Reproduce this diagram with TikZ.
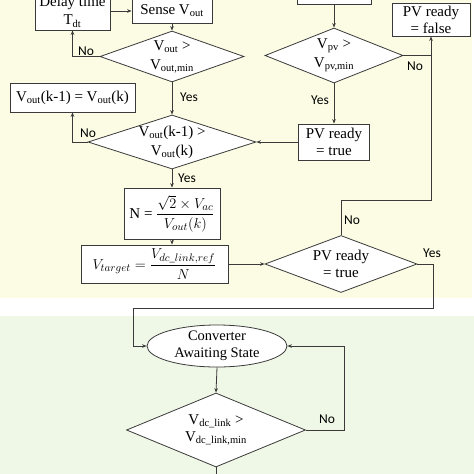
\documentclass[tikz,border=0pt]{standalone}
\usepackage{amsmath}
\usepackage{fontspec}
\setmainfont{Liberation Serif}
\newfontfamily\lblfont{Carlito}
\usetikzlibrary{shapes.geometric,arrows.meta}
\definecolor{lc}{HTML}{3A3A3A}
\definecolor{ybg}{HTML}{FCFCE4}
\definecolor{gbg}{HTML}{EFF8E6}
\begin{document}
\begin{tikzpicture}[x=1pt,y=-1pt,
  conn/.style={draw=lc, line width=0.8pt},
  arr/.style={conn, -{Stealth[length=4.5pt,width=3.6pt]}},
  box/.style={draw=lc, line width=0.8pt, fill=white, rectangle, inner sep=0pt, align=center, font=\fontsize{15}{17}\selectfont},
  dia/.style={draw=lc, line width=0.8pt, fill=white, diamond, inner xsep=0pt, inner ysep=-10pt, align=center, font=\fontsize{15}{19}\selectfont},
  ell/.style={draw=lc, line width=0.8pt, fill=white, ellipse, inner xsep=0pt, inner ysep=-8pt, align=center, font=\fontsize{14.5}{17}\selectfont},
  lbl/.style={font=\lblfont\fontsize{13.5}{15}\selectfont, inner sep=0pt}]
\useasboundingbox (0,0) rectangle (474,474);
\clip (0,0) rectangle (474,474);
\fill[ybg] (0,0) rectangle (472,298);
\fill[gbg] (0,316) rectangle (474,474);

% nodes
\node[box, minimum width=75, minimum height=36, font=\fontsize{15}{18}\selectfont] (delay) at (72.5,12) {Delay time\\T\textsubscript{dt}};
\node[box, minimum width=80, minimum height=24] (sense) at (172,11) {Sense V\textsubscript{out}};
\node[box, minimum width=74, minimum height=30] (top) at (334,-11) {};
\node[box, minimum width=78, minimum height=33] (pvf) at (431,19.5) {PV ready\\= false};
\node[dia, shape aspect=2.8, minimum width=144, minimum height=51] (d1) at (172,56.5) {V\textsubscript{out} >\\V\textsubscript{out,min}};
\node[box, minimum width=125, minimum height=29] (upd) at (72.5,97.5) {V\textsubscript{out}(k-1) = V\textsubscript{out}(k)};
\node[dia, shape aspect=3.1, minimum width=168, minimum height=54] (d2) at (172,142) {V\textsubscript{out}(k-1) >\\V\textsubscript{out}(k)};
\node[dia, shape aspect=2.5, minimum width=138, minimum height=55] (d3) at (334,55.5) {V\textsubscript{pv} >\\V\textsubscript{pv,min}};
\node[box, minimum width=71, minimum height=36] (pvt) at (334,142) {PV ready\\= true};
\node[box, minimum width=96, minimum height=51] (nbox) at (172,213.5) {N = $\dfrac{\sqrt{2}\times V_{ac}}{V_{out}(k)}$};
\node[box, minimum width=147, minimum height=38] (vt) at (154.5,264) {$V_{target} = \dfrac{V_{dc\_link,ref}}{N}$};
\node[dia, shape aspect=2.7, minimum width=152, minimum height=57, font=\fontsize{15}{17}\selectfont] (d4) at (341,264) {PV ready\\= true};
\node[ell, minimum width=140, minimum height=42] (conv) at (217,346) {Converter\\Awaiting State};
\node[dia, shape aspect=2.4, minimum width=179, minimum height=74, font=\fontsize{15}{17}\selectfont] (d5) at (216,430) {V\textsubscript{dc\_link} >\\V\textsubscript{dc\_link,min}};

% helper coordinates
\coordinate (j1) at (431,200);
\coordinate (y1) at (433,308);
\coordinate (y2) at (133,308);
\coordinate (bot) at (216,480);

% connectors
\draw[arr] (delay.east |- sense.west) -- (sense.west);
\draw[arr] (sense.south) -- (d1.north);
\draw[arr] (d1.west) -| (delay.south);
\draw[arr] (d1.south) -- (d2.north);
\draw[arr] (d2.west) -| (upd.south);
\draw[arr] (d2.south) -- (nbox.north);
\draw[arr] (nbox.south) -- (nbox.south |- vt.north);
\draw[arr] (vt.east) -- (d4.west);
\draw[arr] (top.south) -- (d3.north);
\draw[conn] (d3.east) -- (d3.east -| pvf.south);
\draw[arr] (d3.south) -- (pvt.north);
\draw[arr] (pvt.west) -- (d2.east);
\draw[arr] (d4.north) |- (j1) -- (pvf.south);
\draw[arr] (d4.east) -| (y1) -- (y2) |- (conv.west);
\draw[arr] (conv.south) -- (d5.north);
\draw[arr] (d5.east) -- ++(38,0) |- (conv.east);
\draw[conn] (d5.south) -- (bot);

% labels
\node[lbl] (n1) at (86,51) {No};
\node[lbl] (s1) at (189,97) {Yes};
\node[lbl] (n2) at (88,133) {No};
\node[lbl] (s2) at (187,178) {Yes};
\node[lbl] (s3) at (320,100) {Yes};
\node[lbl] (n3) at (415,66) {No};
\node[lbl] (n4) at (352,220) {No};
\node[lbl] (s4) at (432,253) {Yes};
\node[lbl] (n5) at (327,419) {No};
\end{tikzpicture}
\end{document}
